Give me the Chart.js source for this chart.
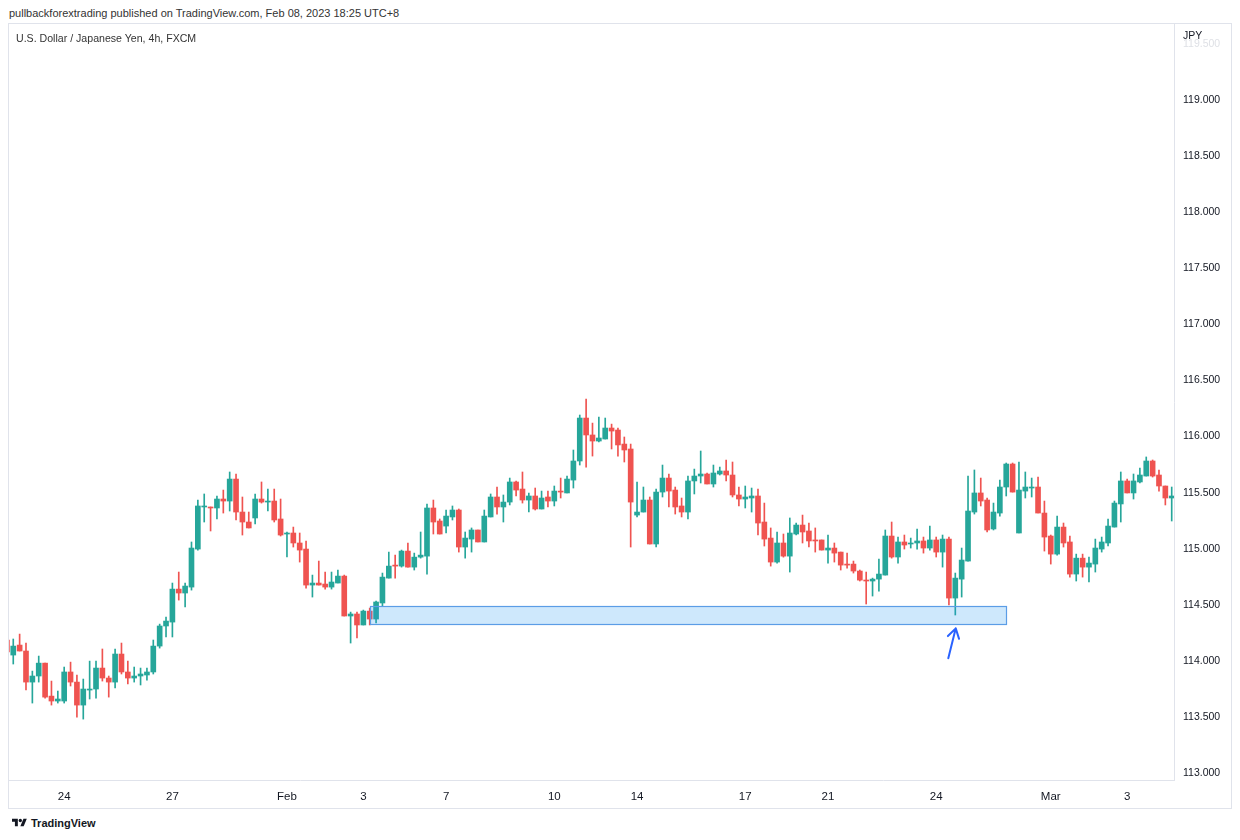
<!DOCTYPE html>
<html>
<head>
<meta charset="utf-8">
<script src="https://cdn.jsdelivr.net/npm/chart.js@4.4.0/dist/chart.umd.min.js"></script>
<style>
  html, body { margin: 0; padding: 0; background: #fff; }
  body { width: 1240px; height: 840px; position: relative; overflow: hidden; font-family: "Liberation Sans", Arial, sans-serif; color: #131722; }
  #header { position: absolute; left: 9px; top: 7px; font-size: 11px; color: #333; white-space: nowrap; }
  #frame { position: absolute; left: 8px; top: 23px; width: 1222px; height: 784px; border: 1px solid #e0e3eb; }
  #frame canvas { position: absolute; left: 0; top: 0; }
  #symbol { position: absolute; left: 7px; top: 8px; font-size: 10.6px; color: #333; white-space: nowrap; }
  #footer { position: absolute; left: 12px; top: 817px; display: flex; align-items: center; font-size: 11px; font-weight: bold; color: #131722; }
  #footer svg { margin-right: 4px; }
</style>
</head>
<body>
<div id="header">pullbackforextrading published on TradingView.com, Feb 08, 2023 18:25 UTC+8</div>
<div id="frame">
  <canvas id="chart" width="1222" height="784"></canvas>
  <div id="symbol">U.S. Dollar / Japanese Yen, 4h, FXCM</div>
</div>
<div id="footer">
  <svg width="15" height="12" viewBox="0 0 36 28"><path d="M14 22H7V11H0V4h14v18z" fill="#131722"/><path d="M28 22h-8l7.5-18h8L28 22z" fill="#131722"/><circle cx="20" cy="8" r="4" fill="#131722"/></svg>
  <span>TradingView</span>
</div>
<script>
// USD/JPY 4h candles (left to right)
const open = [
  114.186, 114.052, 114.141, 114.088, 113.811, 113.865, 113.980, 113.686, 113.642, 113.642,
  113.901, 113.811, 113.606, 113.740, 113.749, 113.936, 113.847, 113.811, 114.061, 113.901,
  113.847, 113.865, 113.874, 113.901, 114.132, 114.311, 114.346, 114.640, 114.605, 114.658,
  114.997, 115.372, 115.372, 115.363, 115.443, 115.425, 115.621, 115.327, 115.238, 115.274,
  115.443, 115.416, 115.425, 115.265, 115.131, 115.140, 115.051, 114.997, 114.676, 114.694,
  114.685, 114.658, 114.694, 114.756, 114.400, 114.418, 114.320, 114.444, 114.373, 114.516,
  114.738, 114.854, 114.845, 114.979, 114.836, 114.925, 114.934, 115.363, 115.247, 115.202,
  115.283, 115.345, 115.015, 115.086, 115.167, 115.060, 115.283, 115.461, 115.372, 115.416,
  115.595, 115.532, 115.434, 115.470, 115.354, 115.461, 115.425, 115.514, 115.497, 115.612,
  115.782, 116.165, 116.014, 115.960, 115.978, 116.076, 116.058, 115.933, 115.889, 115.300,
  115.327, 115.434, 115.042, 115.505, 115.630, 115.523, 115.381, 115.327, 115.604, 115.648,
  115.666, 115.577, 115.666, 115.693, 115.657, 115.479, 115.443, 115.452, 115.470, 115.238,
  115.095, 114.881, 115.051, 114.934, 115.131, 115.211, 115.158, 115.078, 115.078, 114.988,
  115.006, 114.970, 114.863, 114.863, 114.801, 114.720, 114.712, 114.729, 114.765, 115.113,
  114.926, 115.060, 115.042, 115.051, 115.069, 115.006, 115.078, 114.970, 115.086, 114.560,
  114.729, 114.890, 115.327, 115.497, 115.434, 115.176, 115.318, 115.550, 115.755, 115.140,
  115.514, 115.541, 115.550, 115.318, 115.113, 114.952, 115.193, 115.060, 114.774, 114.916,
  114.836, 114.863, 114.997, 115.051, 115.193, 115.399, 115.604, 115.497, 115.595, 115.648,
  115.782, 115.657, 115.559, 115.452
];
const high = [
  114.293, 114.195, 114.239, 114.159, 113.909, 114.043, 113.980, 113.820, 113.731, 113.945,
  113.989, 113.874, 113.838, 113.998, 113.998, 114.106, 113.865, 114.106, 114.159, 113.998,
  113.945, 113.936, 113.936, 114.186, 114.328, 114.391, 114.694, 114.792, 114.694, 115.060,
  115.434, 115.488, 115.372, 115.470, 115.523, 115.684, 115.666, 115.461, 115.327, 115.488,
  115.595, 115.532, 115.532, 115.443, 115.149, 115.193, 115.140, 115.069, 114.765, 114.890,
  114.792, 114.792, 114.810, 114.765, 114.435, 114.435, 114.453, 114.471, 114.534, 114.783,
  114.970, 114.943, 114.988, 115.051, 114.961, 115.149, 115.399, 115.434, 115.265, 115.345,
  115.381, 115.354, 115.149, 115.185, 115.167, 115.345, 115.488, 115.550, 115.479, 115.630,
  115.604, 115.684, 115.497, 115.541, 115.514, 115.514, 115.559, 115.630, 115.648, 115.880,
  116.192, 116.334, 116.120, 116.174, 116.165, 116.111, 116.076, 115.996, 115.933, 115.595,
  115.550, 115.461, 115.532, 115.746, 115.666, 115.550, 115.452, 115.648, 115.710, 115.871,
  115.675, 115.746, 115.728, 115.791, 115.773, 115.550, 115.559, 115.541, 115.532, 115.407,
  115.185, 115.149, 115.131, 115.274, 115.229, 115.300, 115.229, 115.185, 115.078, 115.122,
  115.051, 114.970, 114.961, 114.890, 114.810, 114.792, 114.738, 114.908, 115.167, 115.238,
  115.104, 115.122, 115.095, 115.175, 115.104, 115.202, 115.104, 115.122, 115.104, 114.783,
  115.006, 115.648, 115.702, 115.630, 115.452, 115.407, 115.612, 115.764, 115.764, 115.773,
  115.684, 115.630, 115.639, 115.425, 115.122, 115.291, 115.229, 115.113, 114.952, 114.952,
  114.926, 115.086, 115.104, 115.265, 115.425, 115.684, 115.621, 115.666, 115.719, 115.818,
  115.791, 115.702, 115.559, 115.550
];
const low = [
  114.043, 113.972, 114.088, 113.740, 113.624, 113.811, 113.668, 113.606, 113.624, 113.624,
  113.776, 113.499, 113.481, 113.660, 113.668, 113.820, 113.677, 113.758, 113.883, 113.794,
  113.811, 113.785, 113.829, 113.883, 114.114, 114.213, 114.213, 114.542, 114.480, 114.631,
  114.988, 115.238, 115.158, 115.265, 115.318, 115.336, 115.256, 115.122, 115.185, 115.220,
  115.407, 115.336, 115.238, 115.113, 114.926, 115.015, 114.881, 114.649, 114.569, 114.676,
  114.640, 114.640, 114.694, 114.400, 114.159, 114.204, 114.320, 114.320, 114.338, 114.489,
  114.738, 114.738, 114.836, 114.836, 114.810, 114.916, 114.774, 115.131, 115.131, 115.140,
  115.256, 114.970, 114.916, 114.970, 115.060, 115.060, 115.283, 115.309, 115.238, 115.390,
  115.470, 115.407, 115.327, 115.345, 115.354, 115.372, 115.381, 115.452, 115.497, 115.541,
  115.746, 115.728, 115.826, 115.951, 115.978, 115.889, 115.826, 115.773, 115.015, 115.283,
  115.327, 115.042, 115.015, 115.461, 115.372, 115.309, 115.283, 115.265, 115.488, 115.586,
  115.577, 115.550, 115.657, 115.604, 115.461, 115.381, 115.363, 115.327, 115.122, 115.024,
  114.845, 114.872, 114.925, 114.792, 115.122, 115.051, 115.015, 114.970, 114.988, 114.872,
  114.881, 114.810, 114.827, 114.783, 114.712, 114.507, 114.578, 114.622, 114.765, 114.916,
  114.872, 114.997, 115.006, 114.997, 114.961, 114.988, 114.926, 114.836, 114.498, 114.409,
  114.569, 114.890, 115.309, 115.381, 115.149, 115.167, 115.291, 115.470, 115.505, 115.140,
  115.452, 115.461, 115.318, 114.979, 114.863, 114.943, 115.015, 114.747, 114.712, 114.747,
  114.703, 114.792, 114.970, 115.024, 115.193, 115.238, 115.497, 115.443, 115.586, 115.648,
  115.639, 115.514, 115.390, 115.247
];
const close = [
  114.079, 114.132, 114.088, 113.811, 113.865, 113.980, 113.677, 113.642, 113.660, 113.901,
  113.811, 113.606, 113.749, 113.749, 113.936, 113.847, 113.811, 114.061, 113.901, 113.847,
  113.865, 113.883, 113.901, 114.132, 114.311, 114.355, 114.640, 114.605, 114.667, 115.006,
  115.381, 115.381, 115.363, 115.443, 115.425, 115.621, 115.327, 115.238, 115.185, 115.443,
  115.416, 115.425, 115.256, 115.122, 115.140, 115.051, 114.988, 114.676, 114.694, 114.676,
  114.658, 114.703, 114.756, 114.400, 114.418, 114.320, 114.444, 114.373, 114.525, 114.747,
  114.845, 114.845, 114.979, 114.836, 114.925, 114.943, 115.363, 115.238, 115.131, 115.291,
  115.345, 115.015, 115.095, 115.167, 115.060, 115.291, 115.461, 115.372, 115.416, 115.595,
  115.523, 115.434, 115.470, 115.354, 115.452, 115.425, 115.514, 115.505, 115.621, 115.782,
  116.165, 116.014, 115.960, 115.987, 116.076, 116.049, 115.925, 115.880, 115.416, 115.327,
  115.434, 115.042, 115.505, 115.630, 115.514, 115.372, 115.327, 115.604, 115.648, 115.666,
  115.577, 115.675, 115.693, 115.657, 115.479, 115.443, 115.461, 115.470, 115.229, 115.086,
  114.881, 115.051, 114.934, 115.140, 115.211, 115.149, 115.069, 115.069, 114.988, 115.006,
  114.961, 114.854, 114.854, 114.801, 114.720, 114.712, 114.729, 114.774, 115.113, 114.926,
  115.060, 115.033, 115.051, 115.069, 115.006, 115.078, 114.970, 115.086, 114.560, 114.738,
  114.899, 115.336, 115.497, 115.425, 115.167, 115.327, 115.550, 115.755, 115.505, 115.523,
  115.550, 115.550, 115.318, 115.104, 114.952, 115.193, 115.051, 114.774, 114.916, 114.836,
  114.872, 115.006, 115.060, 115.202, 115.407, 115.604, 115.497, 115.604, 115.657, 115.782,
  115.648, 115.559, 115.452, 115.470
];

// time axis labels (candle index where each sits)
const tickIdx = [9, 26, 44, 56, 69, 86, 99, 116, 129, 146, 164, 176];
const tickText = ['24', '27', 'Feb', '3', '7', '10', '14', '17', '21', '24', 'Mar', '3'];

// visible window
const viewIdx = [0.33, 183.36];
const viewPrice = [112.938, 119.678];

// demand zone rectangle and arrow, in candle index / price
const zoneIdx = [57, 157];
const zonePrice = [114.329, 114.489];
const arrowIdx = [147.9, 149.07];
const arrowPrice = [114.023, 114.290];

const UP = '#26a69a';
const DOWN = '#ef5350';
const FONT = '"Liberation Sans", Arial, sans-serif';

const candleColors = open.map((o, i) => close[i] >= o ? UP : DOWN);

const overlay = {
    id: 'overlay',
    afterDatasetsDraw(chart) {
        const { ctx, chartArea, scales: { x, y } } = chart;
        ctx.save();
        ctx.beginPath();
        ctx.rect(chartArea.left, chartArea.top, chartArea.width, chartArea.height);
        ctx.clip();

        // zone
        const x0 = Math.round(x.getPixelForValue(zoneIdx[0]));
        const x1 = Math.round(x.getPixelForValue(zoneIdx[1]));
        const y0 = Math.round(y.getPixelForValue(zonePrice[1]));
        const y1 = Math.round(y.getPixelForValue(zonePrice[0]));
        ctx.fillStyle = 'rgba(33,150,243,0.22)';
        ctx.fillRect(x0, y0, x1 - x0, y1 - y0);
        ctx.strokeStyle = '#5b9de6';
        ctx.lineWidth = 1.2;
        ctx.strokeRect(x0 + 0.5, y0 + 0.5, x1 - x0, y1 - y0);

        // arrow
        const ax0 = x.getPixelForValue(arrowIdx[0]), ay0 = y.getPixelForValue(arrowPrice[0]);
        const ax1 = x.getPixelForValue(arrowIdx[1]), ay1 = y.getPixelForValue(arrowPrice[1]);
        const ang = Math.atan2(ay1 - ay0, ax1 - ax0);
        const head = 11;
        ctx.strokeStyle = '#2962ff';
        ctx.lineWidth = 2;
        ctx.lineCap = 'round';
        ctx.lineJoin = 'round';
        ctx.beginPath();
        ctx.moveTo(ax0, ay0);
        ctx.lineTo(ax1, ay1);
        ctx.moveTo(ax1 - head * Math.cos(ang - 0.55), ay1 - head * Math.sin(ang - 0.55));
        ctx.lineTo(ax1, ay1);
        ctx.lineTo(ax1 - head * Math.cos(ang + 0.55), ay1 - head * Math.sin(ang + 0.55));
        ctx.stroke();
        ctx.restore();
    },
    afterDraw(chart) {
        const { ctx, chartArea } = chart;
        ctx.save();
        ctx.fillStyle = '#131722';
        ctx.font = '10.5px ' + FONT;
        ctx.textBaseline = 'middle';
        ctx.fillText('JPY', chartArea.right + 9, 12);
        ctx.restore();
    }
};

new Chart(document.getElementById('chart'), {
    type: 'bar',
    data: {
        datasets: [
            {
                // wicks
                data: low.map((l, i) => ({ x: i, y: [l, high[i]] })),
                backgroundColor: candleColors,
                barThickness: 1,
                grouped: false,
                clip: 0,
                order: 2
            },
            {
                // bodies
                data: open.map((o, i) => ({ x: i, y: [o, close[i]] })),
                backgroundColor: candleColors,
                barThickness: 5,
                minBarLength: 1,
                grouped: false,
                clip: 0,
                order: 1
            }
        ]
    },
    options: {
        responsive: false,
        animation: false,
        events: [],
        layout: { padding: 0 },
        plugins: { legend: { display: false }, tooltip: { enabled: false } },
        scales: {
            x: {
                type: 'linear',
                min: viewIdx[0],
                max: viewIdx[1],
                offset: false,
                grid: { display: false, drawTicks: false, offset: false },
                border: { display: true, color: '#e0e3eb' },
                afterBuildTicks: (s) => { s.ticks = tickIdx.map(v => ({ value: v })); },
                ticks: {
                    autoSkip: false,
                    maxRotation: 0,
                    padding: 10,
                    color: '#131722',
                    font: { size: 11.5, family: FONT },
                    callback: (v) => tickText[tickIdx.indexOf(v)]
                },
                afterFit: (s) => { s.height = 28; s.paddingLeft = 0; s.paddingRight = 0; }
            },
            y: {
                position: 'right',
                min: viewPrice[0],
                max: viewPrice[1],
                grid: { display: false, drawTicks: false },
                border: { display: true, color: '#e0e3eb' },
                ticks: {
                    stepSize: 0.5,
                    includeBounds: false,
                    padding: 9,
                    font: { size: 10.5, family: FONT },
                    color: (c) => (c.tick && c.tick.value > 119.2) ? '#dfe1e6' : '#131722',
                    callback: (v) => v.toFixed(3)
                },
                afterFit: (s) => { s.width = 57; s.paddingTop = 0; s.paddingBottom = 0; }
            }
        }
    },
    plugins: [overlay]
});
</script>
</body>
</html>
